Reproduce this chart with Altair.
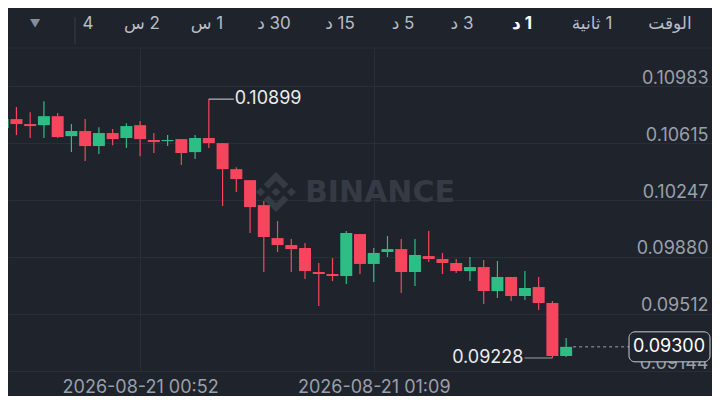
import altair as alt
import pandas as pd

# 1-minute candles, 2026-08-21
times = ["00:42", "00:43", "00:44", "00:45", "00:46", "00:47", "00:48", "00:49",
         "00:50", "00:51", "00:52", "00:53", "00:54", "00:55", "00:56", "00:57",
         "00:58", "00:59", "01:00", "01:01", "01:02", "01:03", "01:04", "01:05",
         "01:06", "01:07", "01:08", "01:09", "01:10", "01:11", "01:12", "01:13",
         "01:14", "01:15", "01:16", "01:17", "01:18", "01:19", "01:20", "01:21",
         "01:22", "01:23"]
opens = [0.10712, 0.10770, 0.10738, 0.10731, 0.10789, 0.10660, 0.10693, 0.10596,
         0.10680, 0.10648, 0.10731, 0.10635, 0.10628, 0.10641, 0.10557, 0.10648,
         0.10615, 0.10447, 0.10376, 0.10215, 0.10002, 0.09957, 0.09938, 0.09783,
         0.09770, 0.09757, 0.10028, 0.09835, 0.09912, 0.09931, 0.09783, 0.09886,
         0.09867, 0.09841, 0.09789, 0.09815, 0.09660, 0.09751, 0.09628, 0.09686,
         0.09583, 0.09241]
highs = [0.10802, 0.10848, 0.10815, 0.10886, 0.10809, 0.10738, 0.10770, 0.10718,
         0.10706, 0.10744, 0.10757, 0.10680, 0.10667, 0.10641, 0.10667, 0.10899,
         0.10615, 0.10460, 0.10376, 0.10241, 0.10112, 0.09996, 0.09970, 0.09841,
         0.09873, 0.10047, 0.10028, 0.09938, 0.10015, 0.09996, 0.09996, 0.10047,
         0.09906, 0.09867, 0.09880, 0.09860, 0.09854, 0.09751, 0.09789, 0.09751,
         0.09596, 0.09357]
lows = [0.10686, 0.10667, 0.10648, 0.10648, 0.10648, 0.10557, 0.10499, 0.10544,
        0.10602, 0.10583, 0.10531, 0.10551, 0.10596, 0.10473, 0.10512, 0.10583,
        0.10209, 0.10299, 0.10035, 0.09783, 0.09912, 0.09783, 0.09738, 0.09564,
        0.09725, 0.09706, 0.09770, 0.09719, 0.09880, 0.09648, 0.09693, 0.09847,
        0.09770, 0.09777, 0.09725, 0.09577, 0.09615, 0.09596, 0.09602, 0.09538,
        0.09228, 0.09235]
closes = [0.10770, 0.10738, 0.10725, 0.10789, 0.10654, 0.10693, 0.10596, 0.10680,
          0.10641, 0.10725, 0.10641, 0.10622, 0.10635, 0.10551, 0.10648, 0.10615,
          0.10447, 0.10383, 0.10202, 0.10009, 0.09957, 0.09931, 0.09789, 0.09770,
          0.09757, 0.10035, 0.09835, 0.09906, 0.09931, 0.09783, 0.09893, 0.09867,
          0.09841, 0.09789, 0.09815, 0.09660, 0.09751, 0.09628, 0.09680, 0.09583,
          0.09241, 0.09300]

y_ticks = [0.10983, 0.10615, 0.10247, 0.09880, 0.09512, 0.09144]
x_ticks = [(0, 52), (1, 9)]

# interval toolbar, left to right as shown
toolbar = ["▼", "4", "2 س", "1 س", "30 د", "15 د", "5 د", "3 د", "1 د", "1 ثانية", "الوقت"]
toolbar_x = [27, 80, 134, 199, 266, 332, 395, 454, 514, 584, 662]
active = "1 د"

BG = "#1f232c"
GRID = "#2a2e38"
UP, DOWN = "#2ebd85", "#f6465d"
AXIS_TXT = "#9aa0a9"
FONT = "Inter, DejaVu Sans, sans-serif"
RLM = "\u200f"  # keeps the Arabic labels in right-to-left order
W, H = 704, 323

LOGO = ("M-0.388 -0.160 L0 -0.548 L0.389 -0.160 L0.615 -0.385 L0 -1 L-0.614 -0.386 Z "
        "M-1 0 L-0.774 -0.226 L-0.548 0 L-0.774 0.226 Z "
        "M-0.388 0.160 L0 0.548 L0.389 0.160 L0.615 0.385 L0 1 L-0.614 0.386 Z "
        "M1 0 L0.774 -0.226 L0.548 0 L0.774 0.226 Z "
        "M0 -0.229 L0.229 0 L0 0.229 L-0.229 0 Z")


def ts(hm):
    return f"2026-08-21T{hm}:00"


def dt(h, m, s=0):
    return alt.DateTime(year=2026, month=8, date=21, hours=h, minutes=m, seconds=s)


df = pd.DataFrame({"t": [ts(t) for t in times], "open": opens, "high": highs,
                   "low": lows, "close": closes})
df["dir"] = ["up" if c >= o else "down" for o, c in zip(opens, closes)]

i_hi = highs.index(max(highs))
i_lo = lows.index(min(lows))
hi = pd.DataFrame({"t": [ts(times[i_hi])], "p": [highs[i_hi]], "label": [f"{highs[i_hi]:.5f}"]})
lo = pd.DataFrame({"t": [ts(times[i_lo])], "p": [lows[i_lo]], "label": [f"{lows[i_lo]:.5f}"]})
last = pd.DataFrame({"t": [ts(times[-1])], "p": [closes[-1]], "label": [f"{closes[-1]:.5f}"]})

xs = alt.Scale(domain=[dt(0, 42, 45), dt(1, 33, 15)])
ys = alt.Scale(domain=[0.09144, 0.11229], zero=False, nice=False)

x_axis = alt.Axis(values=[dt(h, m) for h, m in x_ticks], format="%Y-%m-%d %H:%M",
                  labelPadding=16, labelBaseline="middle", ticks=False, tickSize=0,
                  domain=False, grid=True, gridColor=GRID, labelColor=AXIS_TXT,
                  labelFont=FONT, labelFontSize=18, labelFlush=False, labelOverlap=False)
y_axis = alt.Axis(orient="right", values=y_ticks, format=".5f", labelAlign="right",
                  labelPadding=-4, labelBaseline="alphabetic", labelOffset=-3,
                  ticks=False, tickSize=0, domain=False, grid=True, gridColor=GRID,
                  labelColor=AXIS_TXT, labelFont=FONT, labelFontSize=18,
                  labelFlush=False, labelOverlap=False)

X = alt.X("t:T", scale=xs, axis=x_axis, title=None)
color = alt.Color("dir:N", scale=alt.Scale(domain=["up", "down"], range=[UP, DOWN]), legend=None)

base = alt.Chart(df).encode(x=X, color=color)
wicks = base.mark_rule(strokeWidth=1.2).encode(
    y=alt.Y("low:Q", scale=ys, axis=y_axis, title=None), y2="high:Q")
bodies = base.mark_bar(size=12).encode(y=alt.Y("open:Q", title=None), y2="close:Q")

# max / min markers
hi_rule = alt.Chart(hi).mark_rule(color="#d5d8dd", x2Offset=25).encode(
    x=alt.X("t:T", title=None), x2="t:T", y=alt.Y("p:Q", title=None))
hi_text = alt.Chart(hi).mark_text(align="left", baseline="middle", dx=26, color="#eaecef",
                                  font=FONT, fontSize=18).encode(
    x=alt.X("t:T", title=None), y=alt.Y("p:Q", title=None), text="label:N")
lo_rule = alt.Chart(lo).mark_rule(color="#9aa0a9", xOffset=-28).encode(
    x=alt.X("t:T", title=None), x2="t:T", y=alt.Y("p:Q", title=None))
lo_text = alt.Chart(lo).mark_text(align="right", baseline="middle", dx=-29, color="#eaecef",
                                  font=FONT, fontSize=18).encode(
    x=alt.X("t:T", title=None), y=alt.Y("p:Q", title=None), text="label:N")

# last price line + tag
last_line = alt.Chart(last).mark_rule(color="#9aa0a9", strokeDash=[3, 3], xOffset=7).encode(
    x=alt.X("t:T", title=None), x2=alt.value(621), y=alt.Y("p:Q", title=None))
last_box = alt.Chart(last).mark_rect(cornerRadius=6, fill=BG, stroke="#c8ccd2", strokeWidth=1,
                                     yOffset=-15, y2Offset=15).encode(
    x=alt.value(621), x2=alt.value(702), y=alt.Y("p:Q", title=None), y2="p:Q")
last_text = alt.Chart(last).mark_text(color="white", font=FONT, fontSize=18,
                                      align="center", baseline="middle").encode(
    x=alt.value(661), y=alt.Y("p:Q", title=None), text="label:N")

# watermark
wm_logo = alt.Chart().mark_point(shape=LOGO, size=1600, filled=True, color="#363a44",
                                 opacity=1, strokeWidth=0).encode(
    x=alt.value(268), y=alt.value(144))
wm_text = alt.Chart().mark_text(text="BINANCE", font="DejaVu Sans", fontSize=30,
                                fontWeight="bold", color="#363a44", align="left",
                                baseline="middle").encode(
    x=alt.value(297), y=alt.value(145))

# toolbar above the plot
bar_layers = []
for lab, px in zip(toolbar, toolbar_x):
    on = lab == active
    arabic = any("\u0600" <= ch <= "\u06ff" for ch in lab)
    bar_layers.append(alt.Chart().mark_text(
        text=RLM + lab if arabic else lab, align="center", baseline="middle", font=FONT,
        fontSize=11 if lab == "▼" else 17, fontWeight="bold" if on else "normal",
        color="white" if on else ("#848e9c" if lab == "▼" else "#b7bdc6")).encode(
        x=alt.value(px), y=alt.value(-24)))
sep_v = alt.Chart().mark_rule(color="#3a3f4a").encode(
    x=alt.value(67), y=alt.value(-31), y2=alt.value(-4))
sep_h = alt.Chart().mark_rule(color=GRID).encode(
    x=alt.value(0), x2=alt.value(W), y=alt.value(0))

chart = alt.layer(
    wm_logo, wm_text, wicks, bodies, hi_rule, hi_text, lo_rule, lo_text,
    last_line, last_box, last_text, sep_v, sep_h, *bar_layers
).properties(
    width=W, height=H, background=BG,
    padding={"left": 0, "right": 0, "top": 40, "bottom": 25},
    autosize=alt.AutoSizeParams(type="none"),
).configure_view(stroke=None)

chart.save("out.html", embed_options={"renderer": "svg", "actions": False})
